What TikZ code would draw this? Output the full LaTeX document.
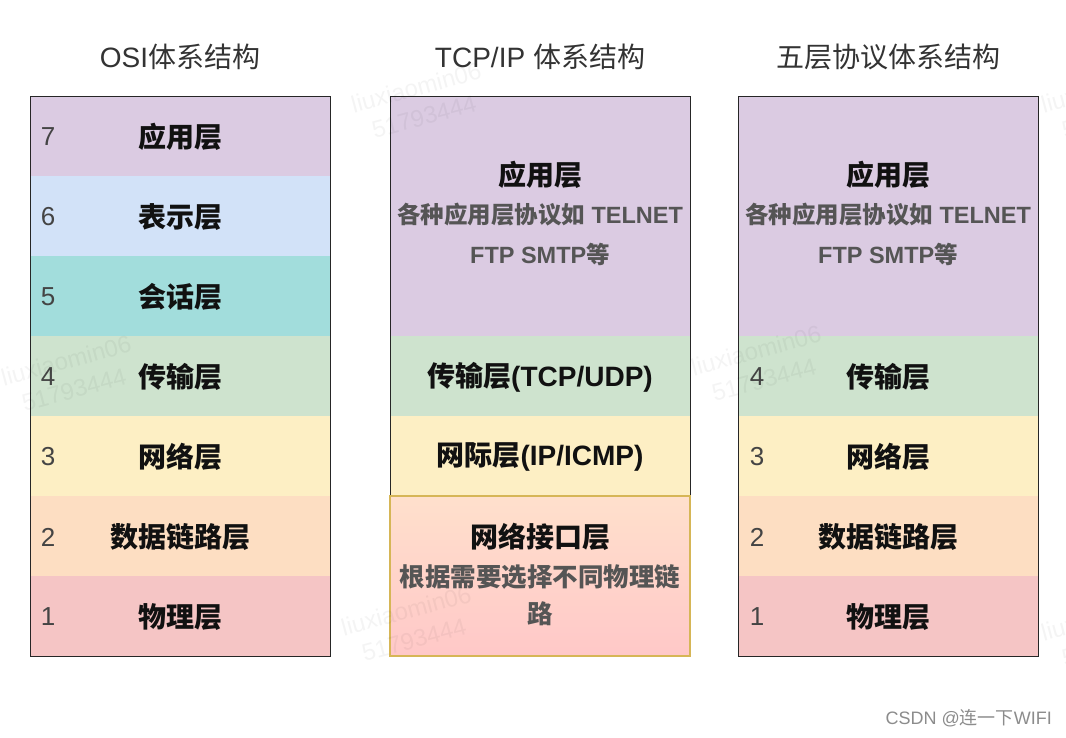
\documentclass[tikz,border=0pt]{standalone}
\usepackage{fontspec}
\setmainfont{Liberation Sans}
\newfontfamily\cjk{Noto Sans CJK SC}
\definecolor{cpurple}{RGB}{219,203,226}
\definecolor{cblue}{RGB}{210,226,248}
\definecolor{cteal}{RGB}{162,221,220}
\definecolor{cgreen}{RGB}{206,227,206}
\definecolor{cyellow}{RGB}{253,239,196}
\definecolor{corange}{RGB}{253,222,194}
\definecolor{cred}{RGB}{245,197,197}
\definecolor{cgold}{RGB}{214,182,86}
\definecolor{ntop}{RGB}{255,224,204}
\definecolor{nbot}{RGB}{255,200,200}
\definecolor{titlegray}{RGB}{51,51,51}
\definecolor{numgray}{RGB}{68,68,68}
\definecolor{descgray}{RGB}{85,85,85}
\definecolor{labblack}{RGB}{17,17,17}
\begin{document}
\begin{tikzpicture}[x=1pt,y=-1pt,
  layer/.style={anchor=north west, minimum width=300pt, minimum height=80pt, inner sep=0pt, outer sep=0pt, draw=none},
  lbl/.style={font=\bfseries\fontsize{28}{32}\selectfont, text=labblack, inner sep=0pt},
  num/.style={font=\fontsize{26}{30}\selectfont, text=numgray, inner sep=0pt},
  desc/.style={font=\bfseries\fontsize{23.5}{28}\selectfont, text=descgray, inner sep=0pt},
  descb/.style={font=\bfseries\fontsize{25.5}{30}\selectfont, text=descgray, inner sep=0pt},
  ttl/.style={font=\fontsize{28}{32}\selectfont, text=titlegray, inner sep=0pt},
  outline/.style={draw=black!85, line width=0.8pt},
  wm/.style={font=\fontsize{24}{30}\selectfont, text=black, text opacity=0.045, rotate=15, align=center, inner sep=0pt}
]
\useasboundingbox (0,0) rectangle (1066,738);
\fill[white] (0,0) rectangle (1066,738);

% titles
\node[ttl] (t1) at (180,57) {OSI{\cjk 体系结构}};
\node[ttl] (t2) at (540,57) {TCP/IP {\cjk 体系结构}};
\node[ttl] (t3) at (888,57) {\cjk 五层协议体系结构};

% OSI column
\node[layer, fill=cpurple] (o7) at (30,96) {};
\node[layer, fill=cblue]   (o6) at (30,176) {};
\node[layer, fill=cteal]   (o5) at (30,256) {};
\node[layer, fill=cgreen]  (o4) at (30,336) {};
\node[layer, fill=cyellow] (o3) at (30,416) {};
\node[layer, fill=corange] (o2) at (30,496) {};
\node[layer, fill=cred]    (o1) at (30,576) {};
\draw[outline] (o7.north west) rectangle (o1.south east);

\node[num] (n7) at (48,137) {7};
\node[num] (n6) at (48,217) {6};
\node[num] (n5) at (48,297) {5};
\node[num] (n4) at (48,377) {4};
\node[num] (n3) at (48,457) {3};
\node[num] (n2) at (48,537) {2};
\node[num] (n1) at (48,617) {1};
\node[lbl] (l7) at (180,137) {\cjk 应用层};
\node[lbl] (l6) at (180,217) {\cjk 表示层};
\node[lbl] (l5) at (180,297) {\cjk 会话层};
\node[lbl] (l4) at (180,377) {\cjk 传输层};
\node[lbl] (l3) at (180,457) {\cjk 网络层};
\node[lbl] (l2) at (180,537) {\cjk 数据链路层};
\node[lbl] (l1) at (180,617) {\cjk 物理层};

% TCP/IP column
\node[layer, fill=cpurple, minimum height=240pt] (ta) at (390,96) {};
\node[layer, fill=cgreen]  (tt) at (390,336) {};
\node[layer, fill=cyellow] (ti) at (390,416) {};
\draw[outline] (ta.north west) rectangle (ti.south east);
\node[layer, minimum height=160pt, top color=ntop, bottom color=nbot, draw=cgold, line width=1.2pt] (tn) at (390,496) {};

\node[lbl] (tal) at (540,175) {\cjk 应用层};
\node[desc] (tad1) at (540,215) {{\cjk 各种应用层协议如} TELNET};
\node[desc] (tad2) at (540,254) {FTP SMTP{\cjk 等}};
\node[lbl] (ttl) at (540,377) {{\cjk 传输层}(TCP/UDP)};
\node[lbl] (til) at (540,457) {{\cjk 网际层}(IP/ICMP)};
\node[lbl] (tnl) at (540,537) {\cjk 网络接口层};
\node[descb] (tnd1) at (540,577) {\cjk 根据需要选择不同物理链};
\node[descb] (tnd2) at (540,614) {\cjk 路};

% Five-layer column
\node[layer, fill=cpurple, minimum height=240pt] (fa) at (738,96) {};
\node[layer, fill=cgreen]  (f4) at (738,336) {};
\node[layer, fill=cyellow] (f3) at (738,416) {};
\node[layer, fill=corange] (f2) at (738,496) {};
\node[layer, fill=cred]    (f1) at (738,576) {};
\draw[outline] (fa.north west) rectangle (f1.south east);

\node[lbl] (fal) at (888,175) {\cjk 应用层};
\node[desc] (fad1) at (888,215) {{\cjk 各种应用层协议如} TELNET};
\node[desc] (fad2) at (888,254) {FTP SMTP{\cjk 等}};
\node[num] (fn4) at (757,377) {4};
\node[num] (fn3) at (757,457) {3};
\node[num] (fn2) at (757,537) {2};
\node[num] (fn1) at (757,617) {1};
\node[lbl] (fl4) at (888,377) {\cjk 传输层};
\node[lbl] (fl3) at (888,457) {\cjk 网络层};
\node[lbl] (fl2) at (888,537) {\cjk 数据链路层};
\node[lbl] (fl1) at (888,617) {\cjk 物理层};

% watermarks
\begin{scope}
\clip (0,0) rectangle (1066,738);
\node[wm] (w1) at (420,102) {liuxiaomin06\\51793444};
\node[wm] (w2) at (70,375) {liuxiaomin06\\51793444};
\node[wm] (w3) at (760,365) {liuxiaomin06\\51793444};
\node[wm] (w4) at (410,625) {liuxiaomin06\\51793444};
\node[wm] (w5) at (1110,102) {liuxiaomin06\\51793444};
\node[wm] (w6) at (1110,630) {liuxiaomin06\\51793444};
\end{scope}

% footer
\node[font=\fontsize{18}{22}\selectfont, text=black!45, anchor=east, inner sep=0pt] (csdn) at (1052,718) {CSDN @{\cjk 连一下}WIFI};
\end{tikzpicture}
\end{document}
